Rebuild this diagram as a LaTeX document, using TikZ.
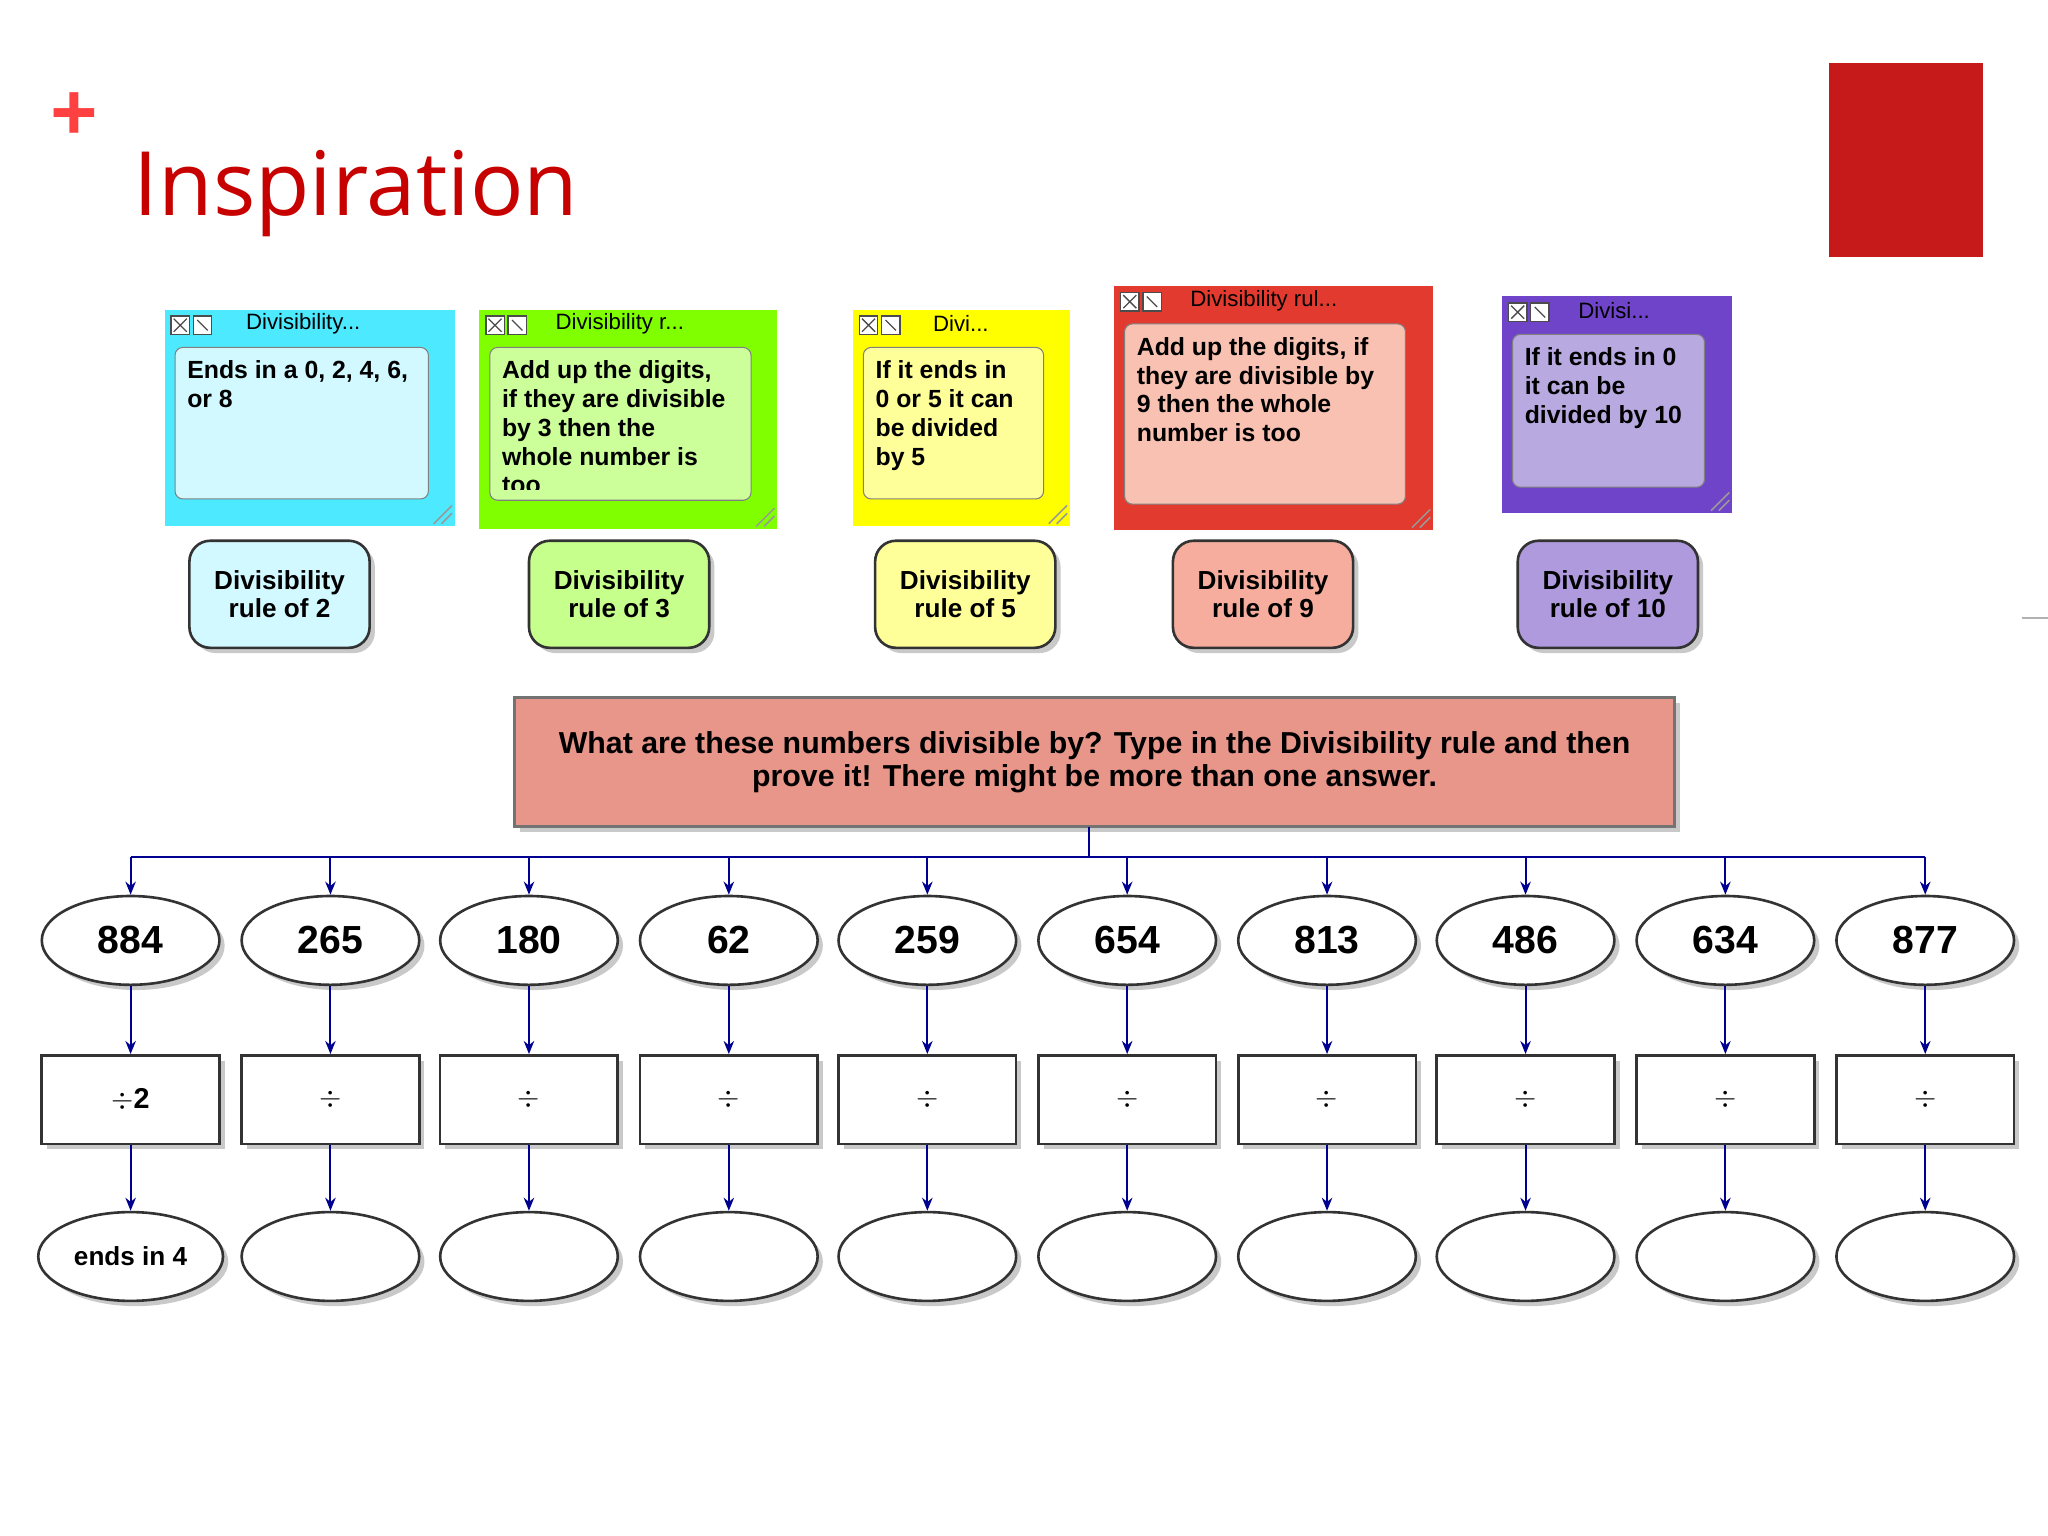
\documentclass[tikz,border=0pt]{standalone}
\usepackage{fontspec}
\setmainfont{Liberation Sans}
\newfontfamily\titlefont{Open Sans}
\usetikzlibrary{shadows,shapes.geometric,arrows.meta}
\definecolor{navy}{HTML}{000090}
\tikzset{
 sh/.style={drop shadow={shadow xshift=2pt,shadow yshift=-2pt,fill=black!35,opacity=0.6}},
 num/.style={ellipse,draw=black!80,line width=1pt,fill=white,sh,minimum width=68pt,minimum height=34pt,font=\bfseries\fontsize{15}{15}\selectfont},
 res/.style={ellipse,draw=black!80,line width=1pt,fill=white,sh,minimum width=68pt,minimum height=34pt,font=\bfseries\fontsize{10}{10}\selectfont},
 div/.style={rectangle,draw=black!80,line width=1pt,fill=white,sh,minimum width=68pt,minimum height=34pt,font=\bfseries\fontsize{11}{11}\selectfont},
 rule/.style={rectangle,rounded corners=8pt,draw=black!80,line width=1pt,sh,minimum width=69pt,minimum height=41pt,align=center,font=\bfseries\fontsize{10}{11}\selectfont},
 arr/.style={navy,line width=0.8pt,-{Stealth[length=5pt,width=4pt]}},
 ln/.style={navy,line width=0.8pt},
 notetxt/.style={anchor=north west,align=left,font=\bfseries\fontsize{9.5}{11}\selectfont,inner sep=0pt},
 ntitle/.style={anchor=west,font=\fontsize{8.5}{9}\selectfont,inner sep=0pt},
}
\newcommand{\notebox}[5]{% x1 y1 x2 y2 col
 \fill[#5] (#1,#2) rectangle (#3,#4);
 \draw[black!40,line width=0.6pt] (#3-16,#4-2) -- (#3-2,#4-16) (#3-10,#4-2) -- (#3-2,#4-10);
 \draw[black!70,line width=0.5pt,fill=white] (#1+5,#2+5) rectangle (#1+19,#2+19);
 \draw[black!70,line width=0.5pt] (#1+7,#2+7) -- (#1+17,#2+17) (#1+17,#2+7) -- (#1+7,#2+17);
 \draw[black!70,line width=0.5pt,fill=white] (#1+22,#2+5) rectangle (#1+36,#2+19);
 \draw[black!70,line width=0.5pt] (#1+25,#2+8) -- (#1+33,#2+16);
}
\begin{document}
\begin{tikzpicture}[x=0.5pt,y=-0.5pt]
\useasboundingbox (0,0) rectangle (1568,1176);
\fill[white] (0,0) rectangle (1568,1176);
% header
\fill[red!75!black!90] (1400,48) rectangle (1518,197);
\draw[black!30,line width=0.6pt] (1548,473) -- (1568,473);
\node[text=red!75!white,font=\titlefont\bfseries\fontsize{32}{32}\selectfont] (plus) at (57,90) {+};
\node[anchor=base west,text=red!78!black,font=\titlefont\fontsize{34}{34}\selectfont,inner sep=0pt] (title) at (102,165) {Inspiration};
% notes
\definecolor{c1}{HTML}{4DE9FF}\definecolor{c1i}{HTML}{D2F9FF}
\definecolor{c2}{HTML}{80FF00}\definecolor{c2i}{HTML}{CCFF99}
\definecolor{c3}{HTML}{FFFF00}\definecolor{c3i}{HTML}{FFFF99}
\definecolor{c4}{HTML}{E33A2F}\definecolor{c4i}{HTML}{F9C1B1}
\definecolor{c5}{HTML}{7044C8}\definecolor{c5i}{HTML}{B9A9E1}
\notebox{126}{237}{348}{403}{c1}
\draw[black!50,fill=c1i,rounded corners=3pt] (134,266) rectangle (328,382);
\node[ntitle] (t1) at (188,248) {Divisibility...};
\node[notetxt] (n1) at (143,276) {Ends in a 0, 2, 4, 6,\\or 8};
\notebox{367}{237}{595}{405}{c2}
\draw[black!50,fill=c2i,rounded corners=3pt] (375,266) rectangle (575,383);
\node[ntitle] (t2) at (425,248) {Divisibility r...};
\begin{scope}\clip (375,266) rectangle (575,375);
\node[notetxt] (n2) at (384,276) {Add up the digits,\\if they are divisible\\by 3 then the\\whole number is\\too};
\end{scope}
\notebox{653}{237}{819}{403}{c3}
\draw[black!50,fill=c3i,rounded corners=3pt] (661,266) rectangle (799,382);
\node[ntitle] (t3) at (714,248) {Divi...};
\node[notetxt] (n3) at (670,276) {If it ends in\\0 or 5 it can\\be divided\\by 5};
\notebox{853}{219}{1097}{406}{c4}
\draw[black!50,fill=c4i,rounded corners=3pt] (861,248) rectangle (1076,386);
\node[ntitle] (t4) at (911,230) {Divisibility rul...};
\node[notetxt] (n4) at (870,258) {Add up the digits, if\\they are divisible by\\9 then the whole\\number is too};
\notebox{1150}{227}{1326}{393}{c5}
\draw[black!50,fill=c5i,rounded corners=3pt] (1158,256) rectangle (1305,373);
\node[ntitle] (t5) at (1208,238) {Divisi...};
\node[notetxt] (n5) at (1167,266) {If it ends in 0\\it can be\\divided by 10};
% rule nodes
\node[rule,fill=c1i] (r1) at (214,455) {Divisibility\\rule of 2};
\node[rule,fill=c2!45!white] (r2) at (474,455) {Divisibility\\rule of 3};
\node[rule,fill=c3i] (r3) at (739,455) {Divisibility\\rule of 5};
\node[rule,fill=c4i!85!c4] (r4) at (967,455) {Divisibility\\rule of 9};
\node[rule,fill=c5i!85!c5] (r5) at (1231,455) {Divisibility\\rule of 10};
% question box
\node[rectangle,draw=black!55,line width=1pt,fill={rgb,255:red,232;green,149;blue,138},sh,minimum width=444pt,minimum height=49.5pt,align=center,font=\bfseries\fontsize{11.6}{12.5}\selectfont] (q) at (838,583.5) {What are these numbers divisible by? Type in the Divisibility rule and then\\prove it! There might be more than one answer.};
\coordinate (j) at (834,656);
\draw[ln] (834,633) -- (j);
\draw[ln] (100,656) -- (1474,656);
\foreach \i/\x/\n/\d/\r in {1/100/884/{\(\div\)2}/ends in 4,2/253/265/\(\div\)/,3/405/180/\(\div\)/,4/558/62/\(\div\)/,5/710/259/\(\div\)/,6/863/654/\(\div\)/,7/1016/813/\(\div\)/,8/1168/486/\(\div\)/,9/1321/634/\(\div\)/,10/1474/877/\(\div\)/}{
 \node[num] (e\i) at (\x,720) {\n};
 \node[div] (d\i) at (\x,842) {\d};
 \node[res] (b\i) at (\x,962) {\r};
 \coordinate (h\i) at (\x,656);
 \draw[arr] (h\i) -- (e\i);
 \draw[arr] (e\i) -- (d\i);
 \draw[arr] (d\i) -- (b\i);
}
\end{tikzpicture}
\end{document}
